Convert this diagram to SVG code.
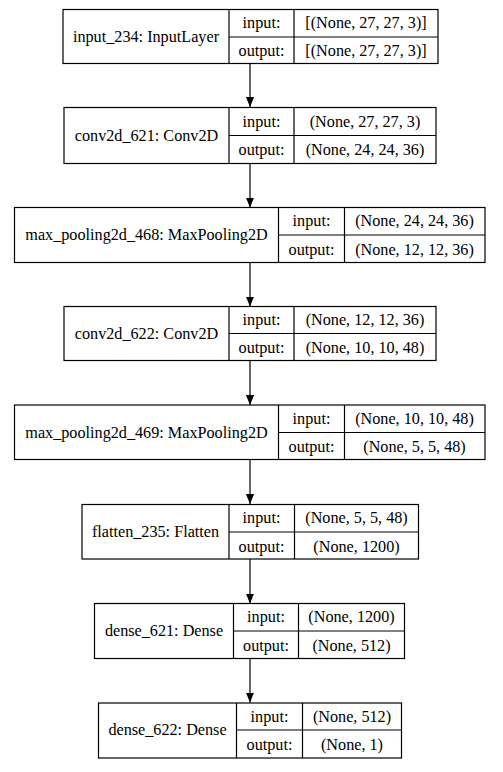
<svg xmlns="http://www.w3.org/2000/svg" width="503" height="772" viewBox="0 0 503 772">
<style>
rect{fill:#fff;stroke:#000;stroke-width:1.2}
line.d{stroke:#000;stroke-width:1.2}
text{font-family:'Liberation Serif','Times New Roman',Times,serif;font-size:16.2px;fill:#000;text-anchor:middle}
.c line{stroke:#000;stroke-width:1.2}
</style>
<defs>
<marker id="ah" markerUnits="userSpaceOnUse" markerWidth="10" markerHeight="12" refX="11" refY="5" orient="auto" viewBox="0 0 11 10">
<path d="M0,0.5 L11,5 L0,9.5 Z" fill="#000"/>
</marker>
</defs>
<rect x="0" y="0" width="503" height="772" style="stroke:none"/>
<g class="c" id="connectors">
<line x1="250" y1="63" x2="250" y2="107" marker-end="url(#ah)"/>
<line x1="250" y1="163" x2="250" y2="207.5" marker-end="url(#ah)"/>
<line x1="250" y1="262" x2="250" y2="306.5" marker-end="url(#ah)"/>
<line x1="250" y1="361" x2="250" y2="405" marker-end="url(#ah)"/>
<line x1="250" y1="459" x2="250" y2="504" marker-end="url(#ah)"/>
<line x1="250" y1="559" x2="250" y2="603.5" marker-end="url(#ah)"/>
<line x1="250" y1="658" x2="250" y2="702.5" marker-end="url(#ah)"/>
</g>
<g font-family="Liberation Serif, serif">
<g id="input_234">
<rect x="63" y="9.5" width="375" height="54"/>
<line class="d" x1="229" y1="9.5" x2="229" y2="63.5"/><line class="d" x1="294" y1="9.5" x2="294" y2="63.5"/><line class="d" x1="229" y1="37" x2="438" y2="37"/>
<text x="146" y="41.5">input_234: InputLayer</text>
<text x="261.5" y="28">input:</text><text x="261.5" y="56">output:</text>
<text x="366" y="28">[(None, 27, 27, 3)]</text><text x="366" y="56">[(None, 27, 27, 3)]</text>
</g>
<g id="conv2d_621">
<rect x="64" y="107.5" width="372" height="56"/>
<line class="d" x1="229" y1="107.5" x2="229" y2="163.5"/><line class="d" x1="294" y1="107.5" x2="294" y2="163.5"/><line class="d" x1="229" y1="135.5" x2="436" y2="135.5"/>
<text x="146.5" y="140.5">conv2d_621: Conv2D</text>
<text x="261.5" y="126.5">input:</text><text x="261.5" y="155">output:</text>
<text x="365" y="126.5">(None, 27, 27, 3)</text><text x="365" y="155">(None, 24, 24, 36)</text>
</g>
<g id="max_pooling2d_468">
<rect x="14.5" y="207.5" width="470.5" height="55"/>
<line class="d" x1="278.5" y1="207.5" x2="278.5" y2="262.5"/><line class="d" x1="344.5" y1="207.5" x2="344.5" y2="262.5"/><line class="d" x1="278.5" y1="235" x2="485" y2="235"/>
<text x="146.5" y="240">max_pooling2d_468: MaxPooling2D</text>
<text x="311.5" y="226">input:</text><text x="311.5" y="254.5">output:</text>
<text x="414.5" y="226">(None, 24, 24, 36)</text><text x="414.5" y="254.5">(None, 12, 12, 36)</text>
</g>
<g id="conv2d_622">
<rect x="64" y="306.5" width="372" height="54"/>
<line class="d" x1="229" y1="306.5" x2="229" y2="360.5"/><line class="d" x1="294" y1="306.5" x2="294" y2="360.5"/><line class="d" x1="229" y1="333.5" x2="436" y2="333.5"/>
<text x="146.5" y="338.5">conv2d_622: Conv2D</text>
<text x="261.5" y="325">input:</text><text x="261.5" y="353">output:</text>
<text x="365" y="325">(None, 12, 12, 36)</text><text x="365" y="353">(None, 10, 10, 48)</text>
</g>
<g id="max_pooling2d_469">
<rect x="14.5" y="405" width="470.5" height="54.5"/>
<line class="d" x1="278.5" y1="405" x2="278.5" y2="459.5"/><line class="d" x1="344.5" y1="405" x2="344.5" y2="459.5"/><line class="d" x1="278.5" y1="432.5" x2="485" y2="432.5"/>
<text x="146.5" y="437.5">max_pooling2d_469: MaxPooling2D</text>
<text x="311.5" y="423.5">input:</text><text x="311.5" y="452">output:</text>
<text x="414.5" y="423.5">(None, 10, 10, 48)</text><text x="414.5" y="452">(None, 5, 5, 48)</text>
</g>
<g id="flatten_235">
<rect x="82" y="504.5" width="336.5" height="54.5"/>
<line class="d" x1="229" y1="504.5" x2="229" y2="559"/><line class="d" x1="294.5" y1="504.5" x2="294.5" y2="559"/><line class="d" x1="229" y1="532" x2="418.5" y2="532"/>
<text x="155.5" y="537">flatten_235: Flatten</text>
<text x="261.5" y="523">input:</text><text x="261.5" y="551.5">output:</text>
<text x="356.5" y="523">(None, 5, 5, 48)</text><text x="356.5" y="551.5">(None, 1200)</text>
</g>
<g id="dense_621">
<rect x="94.5" y="603.5" width="310" height="55"/>
<line class="d" x1="233.5" y1="603.5" x2="233.5" y2="658.5"/><line class="d" x1="298.5" y1="603.5" x2="298.5" y2="658.5"/><line class="d" x1="233.5" y1="631" x2="404.5" y2="631"/>
<text x="164" y="636">dense_621: Dense</text>
<text x="266" y="622">input:</text><text x="266" y="650.5">output:</text>
<text x="351.5" y="622">(None, 1200)</text><text x="351.5" y="650.5">(None, 512)</text>
</g>
<g id="dense_622">
<rect x="98.5" y="703" width="303" height="55"/>
<line class="d" x1="236.5" y1="703" x2="236.5" y2="758"/><line class="d" x1="302.5" y1="703" x2="302.5" y2="758"/><line class="d" x1="236.5" y1="730" x2="401.5" y2="730"/>
<text x="167.5" y="735">dense_622: Dense</text>
<text x="269.5" y="721.5">input:</text><text x="269.5" y="750">output:</text>
<text x="352" y="721.5">(None, 512)</text><text x="352" y="750">(None, 1)</text>
</g>
</g>
</svg>
